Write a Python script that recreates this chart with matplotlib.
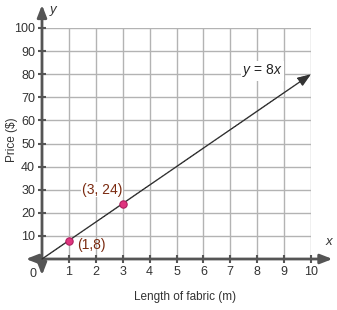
import numpy as np
import matplotlib.pyplot as plt

plt.rcParams['font.family'] = ['Liberation Sans', 'DejaVu Sans']
plt.rcParams['mathtext.fontset'] = 'custom'
plt.rcParams['mathtext.it'] = 'Liberation Sans:italic'
plt.rcParams['mathtext.rm'] = 'Liberation Sans'

# 데이터
x_ticks = [1, 2, 3, 4, 5, 6, 7, 8, 9, 10]
y_ticks = [10, 20, 30, 40, 50, 60, 70, 80, 90, 100]
slope = 8
line_x = [0, 10]
pts_x = [1, 3]
pts_y = [8, 24]
pt_labels = ['(1,8)', '(3, 24)']

W, H = 337, 310
fig = plt.figure(figsize=(W / 100, H / 100), dpi=100)
# 원점(42,259), (10,100) -> (311,28) 픽셀
x0, y0, x1, y1 = 42, 259, 311, 28
ax = fig.add_axes([x0 / W, (H - y0) / H, (x1 - x0) / W, (y0 - y1) / H])
ax.set_xlim(0, 10)
ax.set_ylim(0, 100)
for s in ax.spines.values():
    s.set_visible(False)

# 격자
for v in x_ticks:
    ax.plot([v, v], [0, 100], color='#b3b3b3', lw=1, zorder=1)
for v in y_ticks:
    ax.plot([0, 10], [v, v], color='#b3b3b3', lw=1, zorder=1)

axc = '#555555'
astyle = '<|-|>,head_length=0.9,head_width=0.35'
# 축 화살표
ax.annotate('', xy=(10.8, 0), xytext=(-0.6, 0),
            arrowprops=dict(arrowstyle=astyle, color=axc, lw=2,
                            mutation_scale=8, shrinkA=0, shrinkB=0),
            annotation_clip=False, zorder=3)
ax.annotate('', xy=(0, 110), xytext=(0, -7),
            arrowprops=dict(arrowstyle=astyle, color=axc, lw=2,
                            mutation_scale=8, shrinkA=0, shrinkB=0),
            annotation_clip=False, zorder=3)

ax.set_xticks(x_ticks)
ax.set_yticks(y_ticks)
ax.tick_params(direction='inout', length=6, width=1.5, color=axc,
               labelsize=9, labelcolor='#333333', pad=2)
ax.text(-0.35, -4, '0', ha='center', va='top', fontsize=9, color='#333333')
ax.text(0.3, 108, 'y', style='italic', fontsize=9.5, color='#333333', va='center')
ax.text(10.65, 6, 'x', style='italic', fontsize=9.5, color='#333333', ha='center')

# y = 8x 직선
ax.annotate('', xy=(line_x[1], slope * line_x[1]), xytext=(line_x[0], slope * line_x[0]),
            arrowprops=dict(arrowstyle='-|>,head_length=0.8,head_width=0.3', color='#333333', lw=1,
                            linestyle=(0, (2, 0.6)), mutation_scale=10,
                            shrinkA=0, shrinkB=0),
            annotation_clip=False, zorder=4)
ax.text(8.2, 81.5, '$y$ = 8$x$', fontsize=10, color='#222222', ha='center', va='center',
        bbox=dict(facecolor='white', edgecolor='none', pad=1), zorder=5)

ax.scatter(pts_x, pts_y, s=28, color='#e0357f', edgecolors='#b02060',
           linewidths=0.8, zorder=6)
ax.text(1.3, 6, pt_labels[0], fontsize=10, color='#7a2a10', va='center', zorder=6)
ax.text(2.23, 30, pt_labels[1], fontsize=10, color='#7a2a10', ha='center', va='center',
        bbox=dict(facecolor='white', edgecolor='none', pad=0.5), zorder=6)

fig.text(12 / W, 1 - 140 / H, 'Price ($)', rotation=90, ha='center', va='center',
         fontsize=8.5, color='#333333')
fig.text(185 / W, 1 - 297 / H, 'Length of fabric (m)', ha='center', va='center',
         fontsize=8.5, color='#333333')

fig.savefig('out.png', dpi=100)
